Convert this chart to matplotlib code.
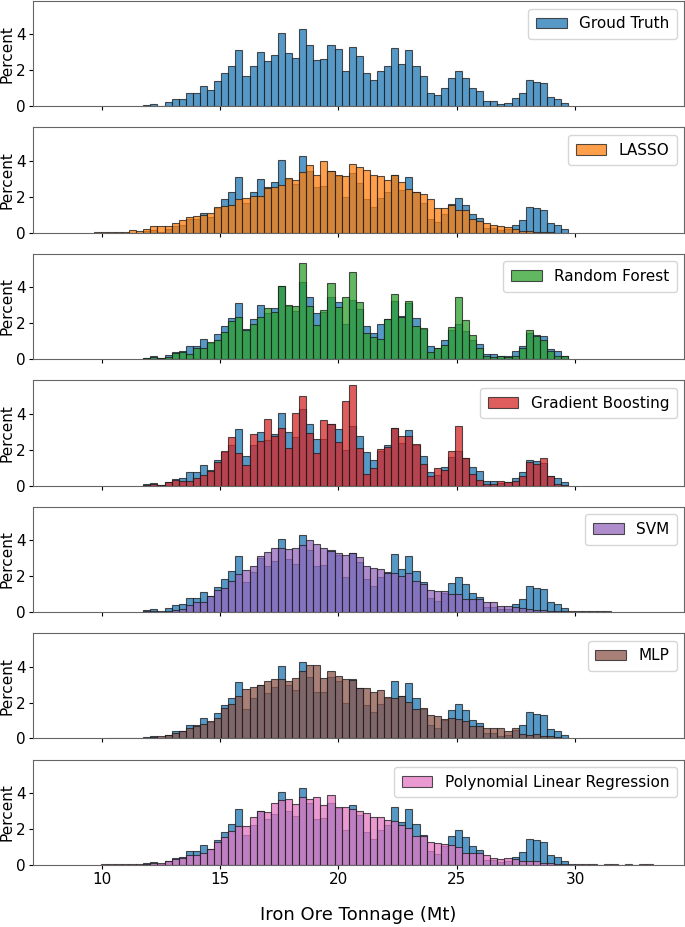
import numpy as np
import matplotlib
matplotlib.use("Agg")
import matplotlib.pyplot as plt

# bin layout shared by all panels (left edge of the first ground-truth bin, bin width)
bin_start = 11.76
bin_width = 0.299

# percent per bin
ground_truth = [0.09, 0.15, 0.04, 0.22, 0.39, 0.43, 0.76, 0.76, 1.12, 0.89,
                1.40, 1.86, 2.27, 3.13, 1.66, 2.25, 3.00, 2.55, 2.85, 4.06,
                2.98, 2.70, 4.28, 3.44, 2.57, 2.61, 3.44, 3.18, 1.97, 3.31,
                2.79, 1.86, 1.45, 1.94, 2.25, 3.22, 2.38, 3.11, 2.27, 1.66,
                0.76, 0.61, 1.04, 1.60, 1.94, 1.56, 1.04, 0.84, 0.28, 0.28,
                0.15, 0.19, 0.45, 0.73, 1.45, 1.36, 1.28, 0.54, 0.43, 0.20]

lasso_first = -7
lasso = [0.03, 0.03, 0.04, 0.05, 0.04, 0.13, 0.07,
         0.19, 0.37, 0.37, 0.37, 0.56, 0.69, 0.88, 0.93, 1.00, 1.12,
         1.43, 1.47, 1.53, 1.90, 1.94, 2.05, 2.05, 2.50, 2.53, 2.68,
         3.05, 2.92, 3.39, 3.76, 3.20, 3.98, 3.43, 3.20, 3.15, 3.85,
         3.67, 3.48, 3.20, 3.17, 2.92, 3.20, 2.83, 2.46, 2.27, 2.18,
         1.86, 1.38, 1.38, 1.53, 1.25, 1.25, 0.78, 0.65, 0.56, 0.41,
         0.37, 0.32, 0.19, 0.07, 0.07, 0.04, 0.04, 0.03]

rf_first = 0
random_forest = [0.05, 0.13, 0.04, 0.10, 0.35, 0.41, 0.28, 0.61, 0.61, 0.97,
                 1.06, 1.53, 2.10, 2.35, 1.64, 1.94, 2.36, 2.85, 2.60, 4.10,
                 3.04, 2.98, 5.34, 2.98, 1.92, 2.74, 4.25, 2.92, 3.44, 4.88,
                 3.17, 1.43, 1.21, 1.12, 2.23, 3.63, 2.33, 3.22, 1.86, 1.73,
                 0.41, 0.60, 0.78, 1.81, 3.44, 2.18, 1.36, 0.61, 0.19, 0.13,
                 0.19, 0.13, 0.19, 0.61, 1.62, 1.30, 1.06, 0.47, 0.19, 0.15]

gb_first = 0
gradient_boosting = [0.04, 0.09, 0.04, 0.19, 0.30, 0.24, 0.28, 0.41, 0.60, 0.80,
                     1.30, 1.90, 2.70, 1.83, 1.15, 2.90, 2.48, 3.72, 2.79, 3.20,
                     2.10, 4.06, 4.99, 2.94, 1.83, 3.63, 3.43, 2.42, 4.70, 5.59,
                     2.10, 0.67, 0.99, 2.05, 2.16, 3.22, 2.76, 2.79, 2.29, 1.23,
                     0.56, 0.99, 0.89, 1.92, 3.31, 1.55, 0.65, 0.30, 0.11, 0.11,
                     0.24, 0.19, 0.24, 0.56, 1.30, 1.23, 1.55, 0.56, 0.11, 0.03]

svm_first = 0
svm = [0.04, 0.04, 0.00, 0.07, 0.13, 0.19, 0.41, 0.56, 0.56, 0.88,
       1.25, 1.34, 1.75, 2.12, 2.36, 2.59, 3.11, 3.33, 3.58, 3.58,
       3.52, 3.58, 3.76, 4.04, 3.80, 3.58, 3.39, 3.30, 3.20, 3.30,
       3.05, 2.55, 2.46, 2.42, 2.18, 2.18, 2.03, 2.18, 1.75, 1.56,
       1.25, 1.19, 1.15, 1.00, 1.00, 0.73, 0.73, 0.73, 0.56, 0.56,
       0.35, 0.35, 0.26, 0.22, 0.19, 0.13, 0.13, 0.07, 0.07, 0.04,
       0.04, 0.03, 0.03, 0.03, 0.03, 0.03]

mlp_first = -5
mlp = [0.03, 0.03, 0.03, 0.04, 0.04,
       0.04, 0.07, 0.13, 0.19, 0.32, 0.41, 0.56, 0.69, 0.82, 0.97,
       1.12, 1.68, 1.90, 2.36, 2.74, 2.87, 2.98, 3.20, 3.30, 3.30,
       3.20, 3.39, 3.76, 4.08, 4.08, 3.39, 3.76, 3.48, 3.30, 3.24,
       2.83, 2.79, 2.61, 2.68, 2.31, 2.23, 2.36, 2.05, 1.62, 1.71,
       1.28, 1.25, 1.06, 1.12, 1.06, 0.97, 0.69, 0.69, 0.60, 0.60,
       0.60, 0.41, 0.56, 0.26, 0.19, 0.26, 0.13, 0.13, 0.07, 0.04]

poly_first = -6
poly = [0.03, 0.03, 0.03, 0.04, 0.04, 0.07,
        0.07, 0.13, 0.13, 0.19, 0.32, 0.41, 0.56, 0.56, 0.69, 0.88,
        1.25, 1.57, 1.87, 2.19, 2.19, 2.69, 3.03, 2.93, 3.44, 3.63,
        3.68, 3.40, 3.81, 3.68, 3.78, 3.31, 3.87, 3.25, 3.21, 3.12,
        3.03, 2.88, 2.69, 2.69, 2.50, 2.47, 2.24, 2.06, 1.63, 1.63,
        1.25, 1.20, 1.16, 1.12, 1.01, 0.69, 0.69, 0.69, 0.56, 0.41,
        0.32, 0.36, 0.32, 0.22, 0.22, 0.19, 0.13, 0.13, 0.07, 0.04,
        0.03, 0.03, 0.04, 0.03, 0.00, 0.03, 0.03, 0.00, 0.03, 0.00, 0.03, 0.03]

models = [
    ("LASSO", lasso, lasso_first, "tab:orange"),
    ("Random Forest", random_forest, rf_first, "tab:green"),
    ("Gradient Boosting", gradient_boosting, gb_first, "tab:red"),
    ("SVM", svm, svm_first, "tab:purple"),
    ("MLP", mlp, mlp_first, "tab:brown"),
    ("Polynomial Linear Regression", poly, poly_first, "tab:pink"),
]


def draw_hist(ax, values, first, color, label=None):
    idx = np.arange(len(values)) + first
    left = bin_start + idx * bin_width
    return ax.bar(left, values, width=bin_width, align="edge", color=color,
                  alpha=0.75, edgecolor="#1a1a1a", linewidth=0.8, label=label)


fig, axes = plt.subplots(7, 1, figsize=(6.85, 9.27), dpi=100, sharex=True, sharey=True)
fig.subplots_adjust(left=0.048, right=0.999, top=0.999, bottom=0.067, hspace=0.2)

# ground truth panel
draw_hist(axes[0], ground_truth, 0, "tab:blue", "Groud Truth")
for ax, (name, vals, first, col) in zip(axes[1:], models):
    draw_hist(ax, ground_truth, 0, "tab:blue")
    draw_hist(ax, vals, first, col, name)

for ax in axes:
    ax.set_ylabel("Percent", fontsize=11, labelpad=1)
    ax.set_yticks([0, 2, 4])
    ax.tick_params(labelsize=11, length=3, pad=2)
    for s in ax.spines.values():
        s.set_color("#666666")
    ax.legend(loc="upper right", fontsize=11, handlelength=2.0, borderpad=0.5)

axes[0].set_xlim(7.1, 34.6)
axes[0].set_ylim(0, 5.87)
axes[-1].set_xticks([10, 15, 20, 25, 30])
axes[-1].set_xlabel("Iron Ore Tonnage (Mt)", fontsize=13, labelpad=14)

fig.savefig("out.png", dpi=100)
